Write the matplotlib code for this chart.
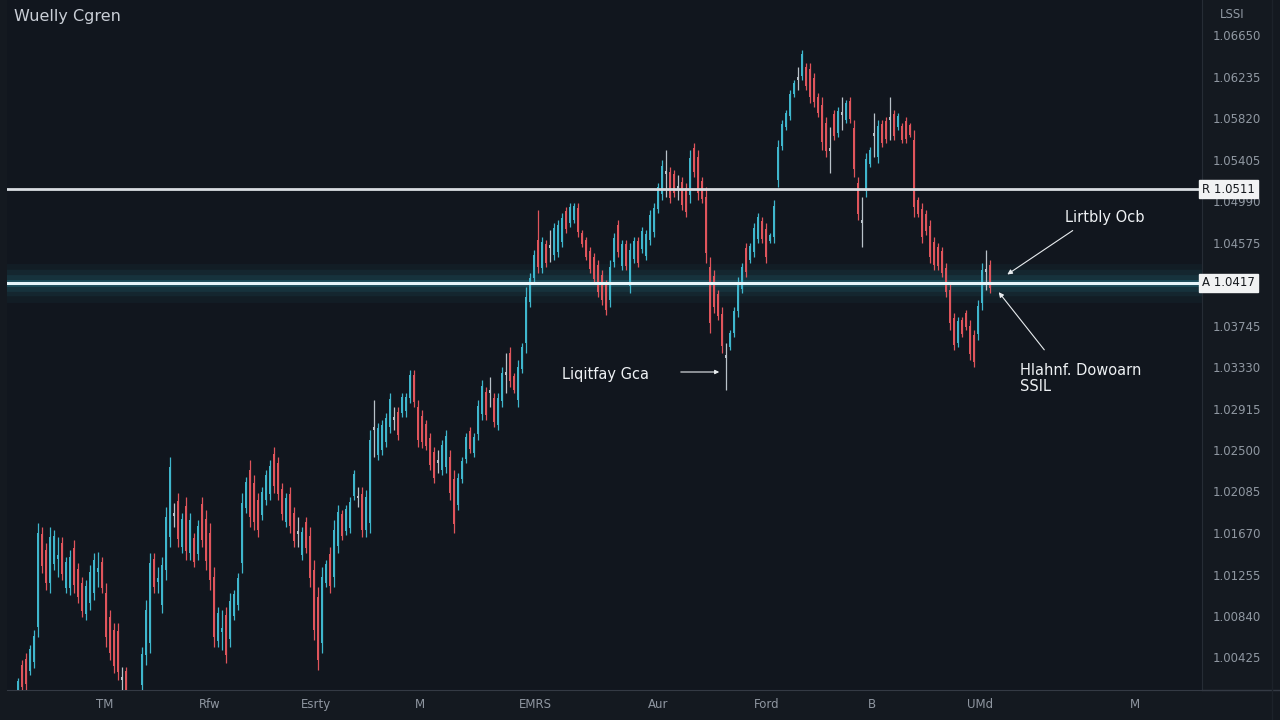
import matplotlib
matplotlib.use("Agg")
import matplotlib.pyplot as plt
from matplotlib.lines import Line2D
import numpy as np

# candle prices in pips above 1.0000
opens = [3, 35, 41, 29, 38, 73, 166, 150, 117, 136, 141, 157, 112, 112, 152, 131, 117, 86, 97, 107,
         128, 138, 107, 83, 70, 69, 20, 29, 2, -5, -20,
         15, 45, 57, 141, 118, 95, 130, 163, 184, 199, 153, 194, 147, 162, 146, 196, 181, 167, 123, 59,
         68, 85, 61, 84, 95, 137, 192, 230, 217, 200, 185, 200, 206, 246, 237, 211, 178, 206, 187, 166,
         145, 178, 164, 130, 103, 57, 117, 146, 123,
         154, 186, 169, 172, 204, 202, 206, 170, 177, 270, 245, 250, 258, 273, 280, 288, 287, 289, 302, 325,
         293, 284, 276, 262, 248, 237, 230, 233, 243, 221, 195, 221, 241, 269, 247, 266, 286, 308, 307, 302,
         275, 299, 325, 347, 324, 300, 331,
         357, 398, 422, 460, 432, 456, 452, 445, 448, 458, 489, 477, 480, 492, 467, 460, 449, 443, 435, 425,
         415, 400, 438, 475, 434, 456, 414, 441, 459, 451, 444, 460, 468, 491, 506, 526, 528, 526, 511, 518,
         512, 505, 552, 543, 519, 503, 433, 424, 406, 386, 342, 353, 367, 389, 411, 452, 440, 448, 461, 479,
         471, 459, 463, 520, 554, 573, 584, 606, 620, 624, 633, 631, 622, 603, 595, 577, 549, 586, 567, 585,
         580, 599, 572, 517, 477, 509, 536, 564, 543, 576, 579, 580, 586, 573, 574, 579, 575, 560, 500, 491,
         486, 474, 458, 453, 449, 432, 410, 382, 357, 380, 387, 374, 365, 366, 397, 428, 435]
highs = [22, 40, 47, 55, 70, 177, 173, 157, 173, 170, 163, 163, 143, 150, 160, 137, 123, 120, 135, 147,
         148, 143, 117, 90, 77, 77, 33, 33, 8, 0, 5,
         53, 100, 147, 147, 133, 143, 193, 243, 197, 207, 187, 203, 187, 167, 180, 203, 190, 177, 133, 93,
         90, 93, 107, 110, 127, 207, 223, 240, 225, 207, 213, 230, 240, 253, 243, 217, 207, 213, 193, 183,
         173, 183, 173, 140, 113, 133, 140, 153, 180,
         195, 190, 195, 203, 230, 213, 213, 210, 270, 300, 277, 280, 287, 307, 293, 293, 307, 307, 330, 330,
         300, 290, 280, 267, 253, 250, 260, 270, 250, 230, 227, 243, 267, 273, 267, 300, 320, 313, 323, 307,
         307, 333, 347, 353, 327, 340, 357,
         413, 427, 450, 490, 463, 460, 470, 477, 480, 487, 493, 497, 497, 497, 470, 463, 453, 447, 440, 430,
         420, 440, 467, 480, 460, 460, 457, 463, 463, 473, 470, 490, 497, 517, 540, 550, 533, 530, 525, 523,
         517, 550, 557, 550, 523, 513, 443, 430, 410, 393, 357, 370, 393, 423, 437, 457, 457, 477, 487, 483,
         477, 467, 500, 560, 580, 590, 610, 620, 633, 650, 637, 637, 627, 607, 603, 583, 573, 590, 593, 603,
         600, 603, 580, 523, 503, 547, 553, 587, 580, 580, 583, 603, 590, 587, 577, 583, 577, 570, 503, 497,
         490, 480, 463, 457, 453, 437, 417, 387, 383, 383, 390, 380, 370, 400, 437, 450, 440]
lows = [0, 8, 10, 25, 32, 63, 127, 110, 107, 130, 123, 120, 107, 105, 107, 97, 83, 80, 90, 100,
        113, 107, 53, 40, 27, 20, 10, 5, -25, -30, -25,
        8, 35, 47, 107, 107, 87, 120, 153, 173, 153, 147, 140, 140, 133, 140, 153, 130, 110, 53, 53,
        50, 37, 53, 80, 90, 127, 187, 173, 170, 163, 180, 195, 200, 207, 200, 180, 173, 167, 153, 153,
        140, 147, 113, 60, 30, 47, 113, 107, 113,
        147, 160, 165, 167, 200, 193, 163, 163, 167, 243, 240, 245, 253, 267, 270, 260, 283, 283, 297, 293,
        253, 252, 250, 230, 217, 227, 225, 227, 200, 167, 190, 217, 237, 247, 243, 260, 280, 280, 293, 273,
        270, 293, 307, 313, 307, 293, 327,
        347, 393, 417, 427, 427, 433, 438, 440, 443, 453, 467, 473, 477, 463, 453, 440, 427, 417, 403, 395,
        385, 393, 433, 443, 430, 430, 407, 437, 433, 447, 440, 455, 463, 487, 500, 503, 497, 503, 500, 490,
        483, 497, 523, 500, 497, 437, 367, 387, 380, 347, 310, 350, 363, 383, 407, 423, 437, 443, 457, 457,
        437, 457, 457, 513, 550, 570, 580, 603, 610, 620, 610, 597, 593, 583, 550, 543, 527, 560, 563, 570,
        577, 577, 523, 480, 453, 503, 533, 543, 537, 553, 557, 560, 560, 570, 557, 557, 563, 483, 483, 457,
        465, 437, 430, 430, 423, 403, 370, 350, 353, 363, 370, 340, 333, 360, 390, 410, 407]
closes = [19, 13, 16, 51, 64, 167, 134, 117, 163, 164, 145, 126, 138, 143, 115, 103, 89, 114, 128, 140,
          132, 112, 63, 47, 34, 28, 23, 9, -20, -25, 0,
          46, 90, 137, 113, 122, 135, 183, 233, 187, 161, 181, 149, 180, 138, 174, 160, 139, 120, 63, 87,
          72, 45, 99, 106, 122, 197, 218, 183, 178, 170, 208, 225, 234, 214, 206, 186, 202, 174, 159, 169,
          168, 152, 122, 70, 40, 123, 136, 114, 170,
          188, 164, 191, 198, 226, 204, 170, 203, 260, 273, 272, 275, 282, 301, 283, 265, 303, 303, 325, 298,
          260, 258, 254, 235, 222, 240, 255, 264, 207, 176, 222, 239, 263, 251, 263, 294, 314, 285, 310, 278,
          302, 327, 328, 319, 310, 333, 353,
          403, 422, 445, 433, 458, 437, 455, 472, 475, 482, 471, 493, 494, 468, 456, 443, 431, 421, 408, 400,
          390, 433, 462, 448, 456, 434, 450, 459, 437, 469, 466, 485, 492, 513, 534, 529, 502, 507, 514, 495,
          488, 542, 528, 507, 501, 447, 377, 393, 384, 354, 345, 367, 389, 417, 433, 428, 454, 472, 483, 461,
          443, 465, 494, 553, 576, 587, 606, 617, 623, 646, 614, 603, 598, 587, 558, 549, 552, 564, 589, 588,
          597, 581, 531, 486, 480, 541, 550, 567, 574, 557, 561, 583, 564, 584, 560, 561, 565, 493, 486, 463,
          469, 443, 435, 434, 427, 408, 377, 355, 379, 366, 373, 346, 338, 394, 430, 431, 412]

price_ticks = [1.06650, 1.06235, 1.05820, 1.05405, 1.04990, 1.04575, 1.04160, 1.03745,
               1.03330, 1.02915, 1.02500, 1.02085, 1.01670, 1.01255, 1.00840, 1.00425]
date_ticks = [21.75, 48, 74.5, 100.5, 129.25, 160, 187.25, 213.5, 240.5, 279.25]
date_labels = ["TM", "Rfw", "Esrty", "M", "EMRS", "Aur", "Ford", "B", "UMd", "M"]

resistance = 1.0511
support = 1.0417

BG = "#11161e"
UP = "#3fb6cd"
DOWN = "#e0555c"
FLAT = "#b9c2c9"


def to_price(pts):
    return 1.0 + np.array(pts, dtype=float) / 10000


o = to_price(opens)
h = to_price(highs)
l = to_price(lows)
c = to_price(closes)
x = np.arange(len(o))

colors = []
for oo, cc in zip(opens, closes):
    if abs(cc - oo) <= 3:
        colors.append(FLAT)
    elif cc > oo:
        colors.append(UP)
    else:
        colors.append(DOWN)

fig = plt.figure(figsize=(12.8, 7.2), dpi=100, facecolor="#141920")
ax = fig.add_axes([7 / 1280, 30 / 720, 1195 / 1280, 690 / 720], facecolor=BG)

# support glow
for lw, a in [(28, 0.05), (19, 0.07), (12, 0.10), (5, 0.22)]:
    ax.axhline(support, color="#2fa0b8", lw=lw, alpha=a, zorder=1)
ax.axhline(support, color="#e6f5fa", lw=2.2, zorder=4)
ax.axhline(resistance, color="#d9dde2", lw=2.0, zorder=4)

# candles
ax.vlines(x, l, h, colors=colors, lw=0.9, zorder=3)
ax.bar(x, c - o, bottom=o, width=0.62, color=colors, linewidth=0, zorder=3)

ax.set_xlim(-2.75, 296)
ax.set_ylim(1.0010, 1.0700)

# the tick hidden behind the support tag is left blank
ax.yaxis.tick_right()
ax.set_yticks(price_ticks)
ax.set_yticklabels(["" if abs(v - support) < 0.001 else f"{v:.5f}" for v in price_ticks])
ax.set_xticks(date_ticks)
ax.set_xticklabels(date_labels)
ax.tick_params(axis="y", length=0, pad=8, labelsize=8.5, labelcolor="#9098a2")
ax.tick_params(axis="x", length=0, pad=6, labelsize=8.5, labelcolor="#8f96a0")

for s in ["top", "left"]:
    ax.spines[s].set_visible(False)
ax.spines["bottom"].set_color("#343a44")
ax.spines["right"].set_color("#262c35")

# line labels on price scale
ytrans = ax.get_yaxis_transform()
for val, txt in [(resistance, "R 1.0511"), (support, "A 1.0417")]:
    ax.text(1.0, val, txt, transform=ytrans, ha="left", va="center", fontsize=8.5,
            color="#15181d", zorder=6, clip_on=False,
            bbox=dict(boxstyle="square,pad=0.25", fc="#f1f2f3", ec="#f1f2f3"))

# annotations
ann = dict(color="#eef1f4", fontsize=10.5)
ax.text(136, 1.0326, "Liqitfay Gca", va="center", ha="left", **ann)
ax.annotate("", xy=(176, 1.0328), xytext=(165, 1.0328),
            arrowprops=dict(arrowstyle="-|>", color="#e8ecef", lw=0.8, mutation_scale=6))
ax.text(271.75, 1.0483, "Lirtbly Ocb", va="center", ha="center", **ann)
ax.annotate("", xy=(246.75, 1.0424), xytext=(264.25, 1.0471),
            arrowprops=dict(arrowstyle="-|>", color="#e8ecef", lw=0.8, mutation_scale=7))
ax.text(250.5, 1.0337, "Hlahnf. Dowoarn\nSSIL", va="top", ha="left", linespacing=1.1, **ann)
ax.annotate("", xy=(244.75, 1.0410), xytext=(257, 1.0348),
            arrowprops=dict(arrowstyle="-|>", color="#e8ecef", lw=0.8, mutation_scale=7))

# frame lines outside the axes
fig.add_artist(Line2D([1202 / 1280, 1.0], [30 / 720, 30 / 720], color="#343a44", lw=1))
fig.add_artist(Line2D([1272 / 1280, 1272 / 1280], [0, 1], color="#1c222a", lw=1))

fig.text(14 / 1280, 1 - 17 / 720, "Wuelly Cgren", fontsize=11.5, color="#c9ced6", va="center")
fig.text(1232 / 1280, 1 - 15 / 720, "LSSI", fontsize=8.5, color="#9098a2", va="center", ha="center")

fig.savefig("out.png", dpi=100, facecolor=fig.get_facecolor())
